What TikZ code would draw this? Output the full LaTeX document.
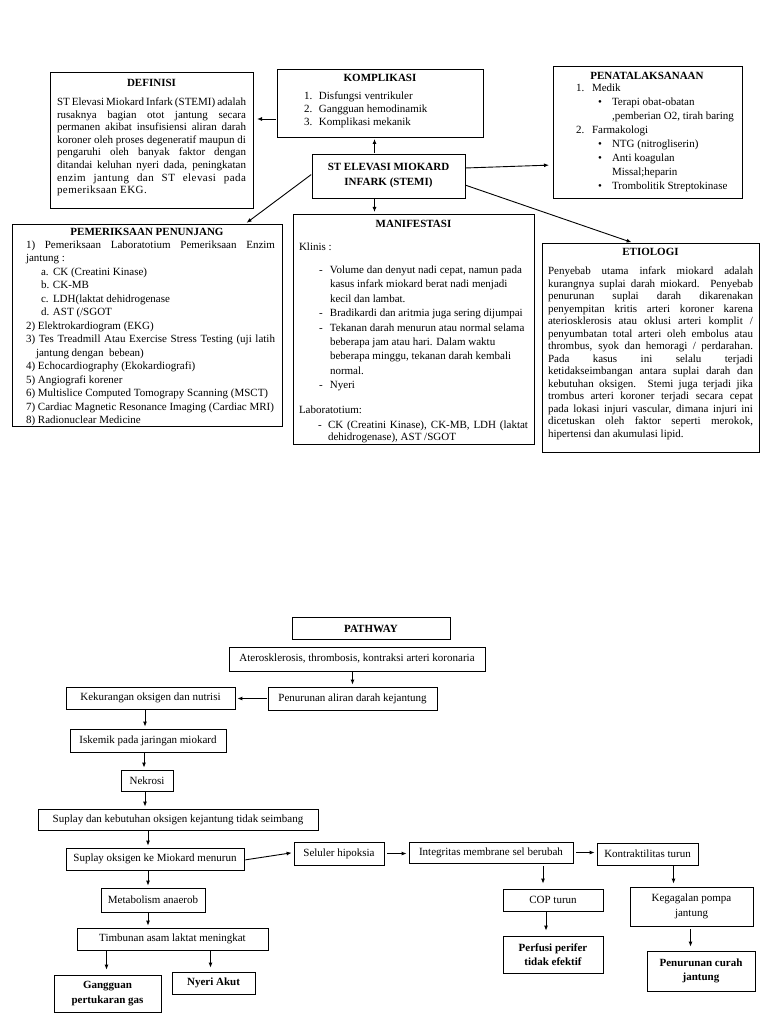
\documentclass[tikz,border=0pt]{standalone}
\usepackage{fontspec}
\setmainfont{Liberation Serif}
\usetikzlibrary{arrows.meta,calc}
\newcommand\fs{\fontsize{11}{13}\selectfont}
\newcommand\fsb{\fontsize{11}{14.5}\selectfont}
\newcommand\J[2]{\hbox to #1{#2}}
\newcommand\V[2]{\vtop{\baselineskip=#1\relax\lineskiplimit=-20pt\relax #2}}
\newcommand\LS{\addfontfeature{LetterSpace=4}}
\begin{document}
\begin{tikzpicture}[x=1pt,y=-1pt,font=\fs,
  frame/.style={draw,line width=0.9pt,inner sep=0pt,outer sep=0pt,anchor=north west},
  txt/.style={inner sep=0pt,outer sep=0pt,anchor=base west},
  ttl/.style={inner sep=0pt,anchor=base,font=\fs\bfseries},
  pbox/.style={draw,line width=0.8pt,inner sep=1pt,align=center,font=\fsb},
  arr/.style={-{Latex[length=5pt,width=4pt]},line width=0.9pt,shorten >=2pt,shorten <=1pt}]
\useasboundingbox (0,0) rectangle (768,1024);

% ---------- frames of the upper part ----------
\node[frame,minimum width=203pt,minimum height=136pt] (def) at (50,72) {};
\node[frame,minimum width=206pt,minimum height=68pt] (kom) at (277,69) {};
\node[frame,minimum width=153pt,minimum height=44pt,align=center,font=\fontsize{11}{15}\selectfont\bfseries] (stemi) at (312,154) {ST ELEVASI MIOKARD\\INFARK (STEMI)};
\node[frame,minimum width=189pt,minimum height=132pt] (pen) at (553,66) {};
\node[frame,minimum width=270pt,minimum height=202pt] (pem) at (12,224) {};
\node[frame,minimum width=241pt,minimum height=230pt] (man) at (293,214) {};
\node[frame,minimum width=217pt,minimum height=209pt] (eti) at (542,243) {};

% ---------- DEFINISI ----------
\node[ttl] (deft) at (151.5,87) {DEFINISI};
\node[txt] (defx) at (57,105.5) {\V{12.6pt}{%
\J{189pt}{ST Elevasi Miokard Infark (STEMI) adalah}
\J{189pt}{rusaknya bagian otot jantung secara}
\J{189pt}{permanen akibat insufisiensi aliran darah}
\J{189pt}{koroner oleh proses degeneratif maupun di}
\J{189pt}{pengaruhi oleh banyak faktor dengan}
\J{189pt}{ditandai keluhan nyeri dada, peningkatan}
\J{189pt}{\LS enzim jantung dan ST elevasi pada}
\hbox{\LS pemeriksaan EKG.}}};

% ---------- KOMPLIKASI ----------
\node[ttl] (komt) at (380,82) {KOMPLIKASI};
\node[txt] (komx) at (304,99.5) {\V{13pt}{%
\hbox{\makebox[15pt][l]{1.}Disfungsi ventrikuler}
\hbox{\makebox[15pt][l]{2.}Gangguan hemodinamik}
\hbox{\makebox[15pt][l]{3.}Komplikasi mekanik}}};

% ---------- PENATALAKSANAAN ----------
\node[ttl] (pent) at (647,80) {PENATALAKSANAAN};
\node[txt] (penx) at (576,92) {\V{14pt}{%
\hbox{\makebox[16pt][l]{1.}Medik}
\hbox{\hskip22pt\makebox[14pt][l]{•}Terapi obat-obatan}
\hbox{\hskip36pt ,pemberian O2, tirah baring}
\hbox{\makebox[16pt][l]{2.}Farmakologi}
\hbox{\hskip22pt\makebox[14pt][l]{•}NTG (nitrogliserin)}
\hbox{\hskip22pt\makebox[14pt][l]{•}Anti koagulan}
\hbox{\hskip36pt Missal;heparin}
\hbox{\hskip22pt\makebox[14pt][l]{•}Trombolitik Streptokinase}}};

% ---------- PEMERIKSAAN PENUNJANG ----------
\node[ttl] (pemt) at (147,236) {PEMERIKSAAN PENUNJANG};
\node[txt] (pemx) at (26,248.5) {\V{13.46pt}{%
\J{249pt}{1) Pemeriksaan Laboratotium Pemeriksaan Enzim}
\hbox{jantung :}
\hbox{\hskip15pt\makebox[12pt][l]{a.}CK (Creatini Kinase)}
\hbox{\hskip15pt\makebox[12pt][l]{b.}CK-MB}
\hbox{\hskip15pt\makebox[12pt][l]{c.}LDH(laktat dehidrogenase}
\hbox{\hskip15pt\makebox[12pt][l]{d.}AST (/SGOT}
\hbox{2) Elektrokardiogram (EKG)}
\J{249pt}{3) Tes Treadmill Atau Exercise Stress Testing (uji latih}
\hbox{\hskip10pt jantung dengan\ \ bebean)}
\hbox{4) Echocardiography (Ekokardiografi)}
\hbox{5) Angiografi korener}
\hbox{6) Multislice Computed Tomograpy Scanning (MSCT)}
\hbox{7) Cardiac Magnetic Resonance Imaging (Cardiac MRI)}
\hbox{8) Radionuclear Medicine}}};

% ---------- MANIFESTASI ----------
\node[ttl] (mant) at (413.5,228) {MANIFESTASI};
\node[txt] (mank) at (299,250.5) {Klinis :};
\node[txt] (manx) at (319,273.5) {\V{14.4pt}{%
\hbox{\makebox[11pt][l]{-}Volume dan denyut nadi cepat, namun pada}
\hbox{\hskip11pt kasus infark miokard berat nadi menjadi}
\hbox{\hskip11pt kecil dan lambat.}
\hbox{\makebox[11pt][l]{-}Bradikardi dan aritmia juga sering dijumpai}
\hbox{\makebox[11pt][l]{-}Tekanan darah menurun atau normal selama}
\hbox{\hskip11pt beberapa jam atau hari. Dalam waktu}
\hbox{\hskip11pt beberapa minggu, tekanan darah kembali}
\hbox{\hskip11pt normal.}
\hbox{\makebox[11pt][l]{-}Nyeri}}};
\node[txt] (manl) at (299,413.5) {Laboratotium:};
\node[txt] (manc) at (318,428.5) {\V{12pt}{%
\hbox{\makebox[10pt][l]{-}\J{200pt}{CK (Creatini Kinase), CK-MB, LDH (laktat}}
\hbox{\hskip10pt dehidrogenase), AST /SGOT}}};

% ---------- ETIOLOGI ----------
\node[ttl] (etit) at (650.5,255) {ETIOLOGI};
\node[txt] (etix) at (548,274.5) {\V{12.54pt}{%
\J{205pt}{Penyebab utama infark miokard adalah}
\J{205pt}{kurangnya suplai darah miokard. Penyebab}
\J{205pt}{penurunan suplai darah dikarenakan}
\J{205pt}{penyempitan kritis arteri koroner karena}
\J{205pt}{ateriosklerosis atau oklusi arteri komplit /}
\J{205pt}{penyumbatan total arteri oleh embolus atau}
\J{205pt}{thrombus, syok dan hemoragi / perdarahan.}
\J{205pt}{Pada kasus ini selalu terjadi}
\J{205pt}{ketidakseimbangan antara suplai darah dan}
\J{205pt}{kebutuhan oksigen. Stemi juga terjadi jika}
\J{205pt}{trombus arteri koroner terjadi secara cepat}
\J{205pt}{pada lokasi injuri vascular, dimana injuri ini}
\J{205pt}{dicetuskan oleh faktor seperti merokok,}
\hbox{hipertensi dan akumulasi lipid.}}};

% ---------- upper connectors ----------
\draw[arr] ([xshift=-14pt]stemi.north) -- ([xshift=-14pt]stemi.north |- kom.south);
\draw[arr] ([xshift=-14pt]stemi.south) -- ([xshift=-14pt]stemi.south |- man.north);
\draw[arr,shorten >=4pt] ([yshift=-16pt]kom.west) -- ([yshift=-16pt]kom.west -| def.east);
\draw[arr,shorten >=4pt] ([yshift=8pt]stemi.east) -- ([yshift=-33pt]pen.west);
\draw[arr] ([yshift=-9pt]stemi.east) -- ([xshift=-17pt]eti.north);
\draw[arr] ([yshift=2pt]stemi.west) -- ([xshift=-37pt]pem.north east);

% ---------- PATHWAY ----------
\node[pbox,minimum width=158pt,minimum height=22pt] (pw) at (371,628.5) {\bfseries PATHWAY};
\node[pbox,minimum width=256pt,minimum height=24pt] (ater) at (357,659) {Aterosklerosis, thrombosis, kontraksi arteri koronaria};
\node[pbox,minimum width=169pt,minimum height=23pt] (penal) at (352.5,698.5) {Penurunan aliran darah kejantung};
\node[pbox,minimum width=169pt,minimum height=22pt] (kek) at (150.5,698) {Kekurangan oksigen dan nutrisi};
\node[pbox,minimum width=156pt,minimum height=23pt] (isk) at (148,740.5) {Iskemik pada jaringan miokard};
\node[pbox,minimum width=52pt,minimum height=21pt] (nek) at (147,780.5) {Nekrosi};
\node[pbox,minimum width=280pt,minimum height=21pt] (sup1) at (178,819.5) {Suplay dan kebutuhan oksigen kejantung tidak seimbang};
\node[pbox,minimum width=178pt,minimum height=22pt] (sup2) at (155,859) {Suplay oksigen ke Miokard menurun};
\node[pbox,minimum width=90pt,minimum height=23pt] (sel) at (339,853.5) {Seluler hipoksia};
\node[pbox,minimum width=164pt,minimum height=21pt] (int) at (491,852.5) {Integritas membrane sel berubah};
\node[pbox,minimum width=101pt,minimum height=22pt] (kon) at (647.5,854) {Kontraktilitas turun};
\node[pbox,minimum width=104pt,minimum height=24pt] (met) at (153,900) {Metabolism anaerob};
\node[pbox,minimum width=191pt,minimum height=22pt] (tim) at (172.5,939) {Timbunan asam laktat meningkat};
\node[pbox,minimum width=107pt,minimum height=37pt,font=\fsb\bfseries] (gan) at (107.5,993.5) {Gangguan\\pertukaran gas};
\node[pbox,minimum width=83pt,minimum height=22pt,font=\fsb\bfseries] (nye) at (213.5,983) {Nyeri Akut};
\node[pbox,minimum width=100pt,minimum height=22pt] (cop) at (553,900) {COP turun};
\node[pbox,minimum width=100pt,minimum height=37pt,font=\fsb\bfseries] (perf) at (553,954.5) {Perfusi perifer\\tidak efektif};
\node[pbox,minimum width=123pt,minimum height=39pt] (keg) at (691.5,906.5) {Kegagalan pompa\\jantung};
\node[pbox,minimum width=108pt,minimum height=40pt,font=\fsb\bfseries] (pcj) at (701,971) {Penurunan curah\\jantung};

% ---------- pathway connectors ----------
\draw[arr] (penal.north |- ater.south) -- (penal.north);
\draw[arr] (penal.west) -- (penal.west -| kek.east);
\draw[arr] ([xshift=-3pt]isk.north |- kek.south) -- ([xshift=-3pt]isk.north);
\draw[arr] ([xshift=-3pt]nek.north |- isk.south) -- ([xshift=-3pt]nek.north);
\draw[arr] ([xshift=-2pt]nek.south) -- ([xshift=-2pt]nek.south |- sup1.north);
\draw[arr] ([xshift=-7pt]sup2.north |- sup1.south) -- ([xshift=-7pt]sup2.north);
\draw[arr] ([yshift=-1pt]sup2.east) -- ([yshift=1pt]sel.west);
\draw[arr,shorten <=3pt] (sel.east) -- (sel.east -| int.west);
\draw[arr,shorten <=3pt] (int.east) -- (int.east -| kon.west);
\draw[arr,shorten <=3pt,shorten >=5pt] ([xshift=-10pt]cop.north |- int.south) -- ([xshift=-10pt]cop.north);
\draw[arr,shorten >=5pt] ([xshift=-7pt]cop.south) -- ([xshift=-7pt]cop.south |- perf.north);
\draw[arr,shorten >=3pt] ([xshift=26pt]kon.south) -- ([xshift=26pt]kon.south |- keg.north);
\draw[arr,shorten <=3pt,shorten >=4pt] ([xshift=-1pt]keg.south) -- ([xshift=-1pt]keg.south |- pcj.north);
\draw[arr] ([xshift=-5pt]met.north |- sup2.south) -- ([xshift=-5pt]met.north);
\draw[arr] ([xshift=-5pt]met.south) -- ([xshift=-5pt]met.south |- tim.north);
\draw[arr,shorten >=5pt] ([xshift=-1pt]gan.north |- tim.south) -- ([xshift=-1pt]gan.north);
\draw[arr,shorten >=4pt] ([xshift=-3pt]nye.north |- tim.south) -- ([xshift=-3pt]nye.north);
\end{tikzpicture}
\end{document}
